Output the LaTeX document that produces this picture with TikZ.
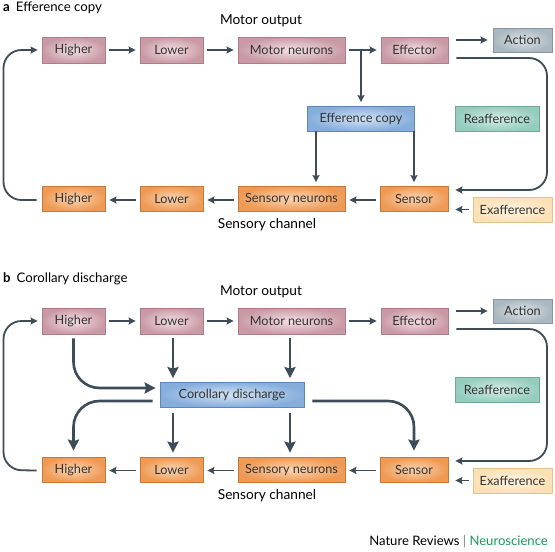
\documentclass[tikz,border=0pt]{standalone}
\usepackage{fontspec}
\setmainfont{Lato}
\usetikzlibrary{arrows.meta,calc}
\definecolor{arr}{HTML}{3E4C57}
\definecolor{txt}{HTML}{333333}
\definecolor{mOut}{HTML}{C99AA5}\definecolor{mIn}{HTML}{F4E0E5}\definecolor{mBd}{HTML}{B07C88}
\definecolor{sOut}{HTML}{EE9A55}\definecolor{sIn}{HTML}{FBD5B2}\definecolor{sBd}{HTML}{C9783A}
\definecolor{bOut}{HTML}{86AEDC}\definecolor{bIn}{HTML}{D3E3F4}\definecolor{bBd}{HTML}{5C87B8}
\definecolor{aOut}{HTML}{A9B7C0}\definecolor{aIn}{HTML}{DCE2E6}\definecolor{aBd}{HTML}{8797A2}
\definecolor{rOut}{HTML}{94CDBE}\definecolor{rIn}{HTML}{D6EEE6}\definecolor{rBd}{HTML}{6DAA9A}
\definecolor{eOut}{HTML}{FBE0B4}\definecolor{eIn}{HTML}{FEF5E4}\definecolor{eBd}{HTML}{E3C28E}
\definecolor{nrgreen}{HTML}{1A9A5A}
\tikzset{
  box/.style={rectangle, inner sep=0pt, minimum height=26pt, text=txt,
    font=\fontsize{12.7}{14}\selectfont, shading=radial, line width=0.8pt},
  motorbox/.style={box, draw=mBd, inner color=mIn, outer color=mOut},
  sensbox/.style={box, draw=sBd, inner color=sIn, outer color=sOut},
  bluebox/.style={box, draw=bBd, inner color=bIn, outer color=bOut},
  actbox/.style={box, draw=aBd, inner color=aIn, outer color=aOut},
  reafbox/.style={box, draw=rBd, inner color=rIn, outer color=rOut},
  exafbox/.style={box, draw=eBd, inner color=eIn, outer color=eOut},
  thin arrow/.style={draw=arr, line width=1.5pt, -{Stealth[length=7pt,width=7pt,inset=1pt]}},
  loop arrow/.style={draw=arr, line width=1.8pt, rounded corners=18pt, -{Stealth[length=7pt,width=7pt,inset=1pt]}},
  thick arrow/.style={draw=arr, line width=2.6pt, -{Stealth[length=11pt,width=11pt,inset=1.5pt]}},
  thick curve/.style={thick arrow, rounded corners=26pt},
  lbl/.style={font=\fontsize{13.7}{15}\selectfont, text=black, inner sep=0pt},
  title/.style={font=\fontsize{13.2}{15}\selectfont, text=black, inner sep=0pt, anchor=west}
}
\begin{document}
\begin{tikzpicture}[x=1pt,y=-1pt]
\useasboundingbox (0,0) rectangle (555,552);
\fill[white] (0,0) rectangle (555,552);

% ---------- Panel a ----------
\node[title] (ta) at (3,8) {\textbf{a}\hspace{6pt}Efference copy};
\node[lbl] (moa) at (261,21) {Motor output};
\node[motorbox, minimum width=63pt] (ha) at (73.5,50) {Higher};
\node[motorbox, minimum width=63pt] (la) at (171.5,50) {Lower};
\node[motorbox, minimum width=107pt] (mna) at (291.5,50) {Motor neurons};
\node[motorbox, minimum width=67pt] (efa) at (414.5,50) {Effector};
\node[actbox, minimum width=59pt, minimum height=24pt] (aca) at (522.5,40) {Action};
\node[bluebox, minimum width=107pt, minimum height=25pt] (eca) at (361,118.5) {Efference copy};
\node[reafbox, minimum width=84pt, minimum height=25pt] (rea) at (497,118.5) {Reafference};
\node[sensbox, minimum width=68pt, minimum height=25pt] (sea) at (414,198.5) {Sensor};
\node[sensbox, minimum width=107pt, minimum height=25pt] (sna) at (291.5,198.5) {Sensory neurons};
\node[sensbox, minimum width=63pt, minimum height=25pt] (lsa) at (171.5,198.5) {Lower};
\node[sensbox, minimum width=63pt, minimum height=25pt] (hsa) at (73.5,198.5) {Higher};
\node[exafbox, minimum width=79pt, minimum height=25pt] (exa) at (512.5,209.5) {Exafference};
\node[lbl] (sca) at (267,225) {Sensory channel};

\draw[thin arrow, shorten <=3.5pt, shorten >=4pt] (ha) -- (la);
\draw[thin arrow, shorten <=3.5pt, shorten >=4pt] (la) -- (mna);
\draw[thin arrow, shorten <=3.5pt, shorten >=4pt] (mna) -- (efa);
\draw[thin arrow] ([xshift=8pt]efa.east |- aca.west) -- ([xshift=-5pt]aca.west);
\draw[thin arrow, shorten >=3.5pt] (eca.north |- mna.east) -- (eca.north);
\draw[thin arrow, shorten >=3.5pt] (eca.south -| 316,0) -- (sna.north -| 316,0);
\draw[thin arrow, shorten >=3.5pt] (eca.south -| sea.north) -- (sea.north);
\draw[thin arrow, shorten <=3.5pt, shorten >=4pt] ([yshift=-1.5pt]sea.west) -- ([yshift=-1.5pt]sna.east);
\draw[thin arrow, shorten <=3.5pt, shorten >=4pt] ([yshift=-1.5pt]sna.west) -- ([yshift=-1.5pt]lsa.east);
\draw[thin arrow, shorten <=3.5pt, shorten >=4pt] ([yshift=-1.5pt]lsa.west) -- ([yshift=-1.5pt]hsa.east);
\draw[thin arrow] ([xshift=-4pt]exa.west) -- ([xshift=7pt]sea.east |- exa.west);
\draw[loop arrow] ([xshift=8pt,yshift=-8pt]efa.east) -- (547,58) -- (547,190) -- ([xshift=7pt,yshift=8.5pt]sea.east);
\draw[loop arrow] ([xshift=-5pt,yshift=-1.5pt]hsa.west) -- (3.5,200) -- (3.5,50) -- ([xshift=-4pt]ha.west);

% ---------- Panel b ----------
\node[title] (tb) at (3,279) {\textbf{b}\hspace{6pt}Corollary discharge};
\node[lbl] (mob) at (261,292) {Motor output};
\node[motorbox, minimum width=63pt] (hb) at (73.5,321) {Higher};
\node[motorbox, minimum width=63pt] (lb) at (171.5,321) {Lower};
\node[motorbox, minimum width=107pt] (mnb) at (291.5,321) {Motor neurons};
\node[motorbox, minimum width=67pt] (efb) at (414.5,321) {Effector};
\node[actbox, minimum width=59pt, minimum height=24pt] (acb) at (522.5,311) {Action};
\node[bluebox, minimum width=144pt, minimum height=25pt] (cdb) at (232,394.5) {Corollary discharge};
\node[reafbox, minimum width=84pt, minimum height=25pt] (reb) at (497,389.5) {Reafference};
\node[sensbox, minimum width=68pt, minimum height=25pt] (seb) at (414,469.5) {Sensor};
\node[sensbox, minimum width=107pt, minimum height=25pt] (snb) at (291.5,469.5) {Sensory neurons};
\node[sensbox, minimum width=63pt, minimum height=25pt] (lsb) at (171.5,469.5) {Lower};
\node[sensbox, minimum width=63pt, minimum height=25pt] (hsb) at (73.5,469.5) {Higher};
\node[exafbox, minimum width=79pt, minimum height=25pt] (exb) at (512.5,480.5) {Exafference};
\node[lbl] (scb) at (267,496) {Sensory channel};

\draw[thin arrow, shorten <=3.5pt, shorten >=4pt] (hb) -- (lb);
\draw[thin arrow, shorten <=3.5pt, shorten >=4pt] (lb) -- (mnb);
\draw[thin arrow, shorten <=3.5pt, shorten >=4pt] (mnb) -- (efb);
\draw[thin arrow] ([xshift=8pt]efb.east |- acb.west) -- ([xshift=-5pt]acb.west);
\draw[thin arrow, shorten <=3.5pt, shorten >=4pt] ([yshift=-1pt]seb.west) -- ([yshift=-1pt]snb.east);
\draw[thin arrow, shorten <=3.5pt, shorten >=4pt] ([yshift=-1pt]snb.west) -- ([yshift=-1pt]lsb.east);
\draw[thin arrow, shorten <=3.5pt, shorten >=4pt] ([yshift=-1pt]lsb.west) -- ([yshift=-1pt]hsb.east);
\draw[thin arrow] ([xshift=-4pt]exb.west) -- ([xshift=7pt]seb.east |- exb.west);
\draw[loop arrow] ([xshift=8pt,yshift=-8pt]efb.east) -- (547,329) -- (547,461) -- ([xshift=7pt,yshift=8.5pt]seb.east);
\draw[loop arrow] ([xshift=-5pt,yshift=-1pt]hsb.west) -- (3.5,470) -- (3.5,321) -- ([xshift=-4pt]hb.west);

\draw[thick curve] ([yshift=-4pt]hb.south) -- (73.5,388) -- ([xshift=-4pt,yshift=6.5pt]cdb.west);
\draw[thick arrow, shorten <=4pt, shorten >=3.5pt] (lb.south -| 173,0) -- (cdb.north -| 173,0);
\draw[thick arrow, shorten <=4pt, shorten >=3.5pt] (mnb.south -| 290,0) -- (cdb.north -| 290,0);
\draw[thick curve] ([xshift=-7pt,yshift=-6.5pt]cdb.west) -- (73.5,401) -- ([yshift=6pt]hsb.north);
\draw[thick arrow, shorten <=6pt, shorten >=4pt] (cdb.south -| 173,0) -- (lsb.north -| 173,0);
\draw[thick arrow, shorten <=6pt, shorten >=4pt] (cdb.south -| 290,0) -- (snb.north -| 290,0);
\draw[thick curve] ([xshift=8pt,yshift=-6.5pt]cdb.east) -- (414,401) -- ([yshift=6pt]seb.north);

% ---------- footer ----------
\node[font=\fontsize{13.1}{15}\selectfont, inner sep=0pt, anchor=east] (nr) at (548,542)
  {Nature Reviews \textcolor{gray}{|} \textcolor{nrgreen}{Neuroscience}};
\end{tikzpicture}
\end{document}
